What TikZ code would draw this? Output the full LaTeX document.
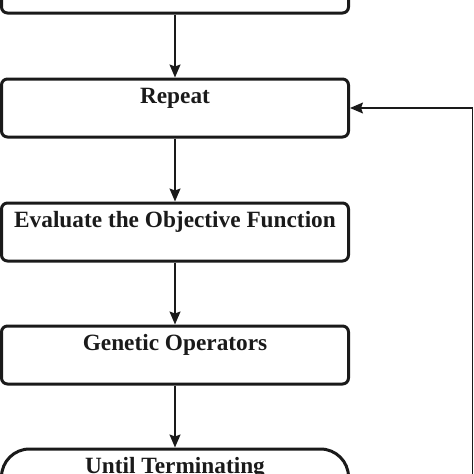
\documentclass[tikz,border=0pt]{standalone}
\usepackage{fontspec}
\setmainfont{Liberation Serif}
\usetikzlibrary{arrows.meta,positioning}
\definecolor{cInk}{HTML}{1A1A1A}
\tikzset{
  >={Stealth[length=13pt,width=11pt,inset=2pt]},
  box/.style ={rounded corners=6pt,draw=cInk,line width=3pt,
               minimum width=347pt,inner xsep=4pt,inner ysep=7pt,
               text height=17pt,text depth=27pt,text=cInk,
               font=\fontsize{23.3}{27}\selectfont\bfseries},
  ubox/.style={box,rounded corners=28pt},
  ar/.style  ={->,line width=1.4pt,cInk},
}
\begin{document}
\begin{tikzpicture}
\useasboundingbox (0,0) rectangle (474pt,-474pt);
\clip (0,0) rectangle (474pt,-474pt);
% main loop
\node[box] (repeat) at (175pt,-108pt) {Repeat};
\node[box,above=63pt of repeat] (init) {};
\node[box,below=63pt of repeat] (eval) {Evaluate the Objective Function};
\node[box,below=62pt of eval] (gen) {Genetic Operators};
\node[ubox,below=62pt of gen] (until) {Until Terminating};
\draw[ar] (init) -- (repeat);
\draw[ar] (repeat) -- (eval);
\draw[ar] (eval) -- (gen);
\draw[ar] (gen) -- (until);
% back to repeat
\draw[ar,line width=1.2pt] (until.east) -| ([xshift=122.5pt]repeat.east) -- (repeat.east);
\end{tikzpicture}
\end{document}
